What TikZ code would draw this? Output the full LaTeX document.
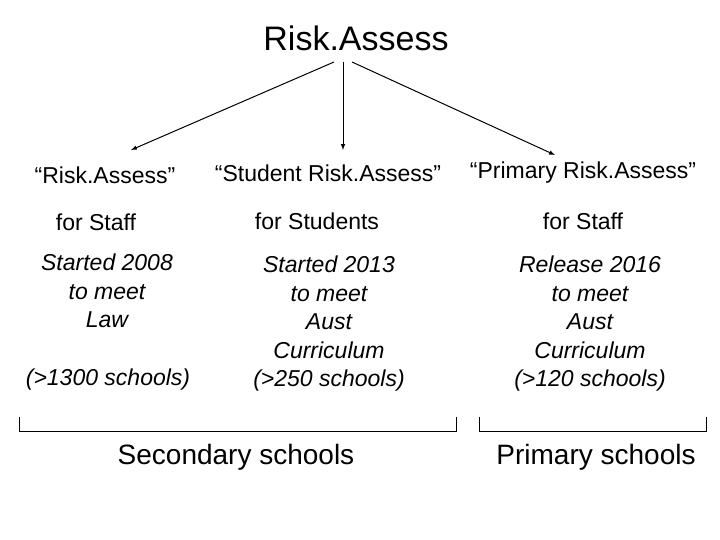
\documentclass[tikz,border=0pt]{standalone}
\usepackage{fontspec}
\setmainfont{Liberation Sans}
\begin{document}
\begin{tikzpicture}[x=1pt,y=-1pt,
  txt/.style={font=\fontsize{23}{29}\selectfont, align=center, inner sep=0pt},
  itx/.style={txt, font=\fontsize{23}{28.5}\selectfont\itshape},
  big/.style={font=\fontsize{28}{32}\selectfont, inner sep=0pt},
  arr/.style={-latex, line width=1pt}]
\useasboundingbox (0,0) rectangle (720,540);
\node[font=\fontsize{34}{40}\selectfont, inner sep=0pt] (t) at (356,38) {Risk.Assess};
\coordinate (s1) at (334,62);
\coordinate (s2) at (343,62);
\coordinate (s3) at (352,62);
\node[txt] (a) at (105,175) {“Risk.Assess”};
\node[txt] (b) at (328,173) {“Student Risk.Assess”};
\node[txt] (c) at (583,173) {“Primary Risk.Assess”};
\coordinate (ea) at (131,150);
\coordinate (eb) at (343,150);
\coordinate (ec) at (555,155);
\draw[arr] (s1) -- (ea);
\draw[arr] (s2) -- (eb);
\draw[arr] (s3) -- (ec);
\node[txt] (fa) at (96,222) {for Staff};
\node[txt] (fb) at (317,221) {for Students};
\node[txt] (fc) at (583,221) {for Staff};
\node[itx, anchor=north] (da) at (107,254) {Started 2008\\to meet\\Law};
\node[itx] (na) at (108,380) {(>1300 schools)};
\node[itx, anchor=north] (db) at (329,256) {Started 2013\\to meet\\Aust\\Curriculum\\(>250 schools)};
\node[itx, anchor=north] (dc) at (590,256) {Release 2016\\to meet\\Aust\\Curriculum\\(>120 schools)};
\coordinate (l1) at (19,417); \coordinate (l2) at (456,417);
\coordinate (r1) at (479,417); \coordinate (r2) at (706,417);
\draw (l1) -- ++(0,14) -| (l2);
\draw (r1) -- ++(0,14) -| (r2);
\node[big] (sec) at (236,457) {Secondary schools};
\node[big] (pri) at (596,457) {Primary schools};
\end{tikzpicture}
\end{document}
